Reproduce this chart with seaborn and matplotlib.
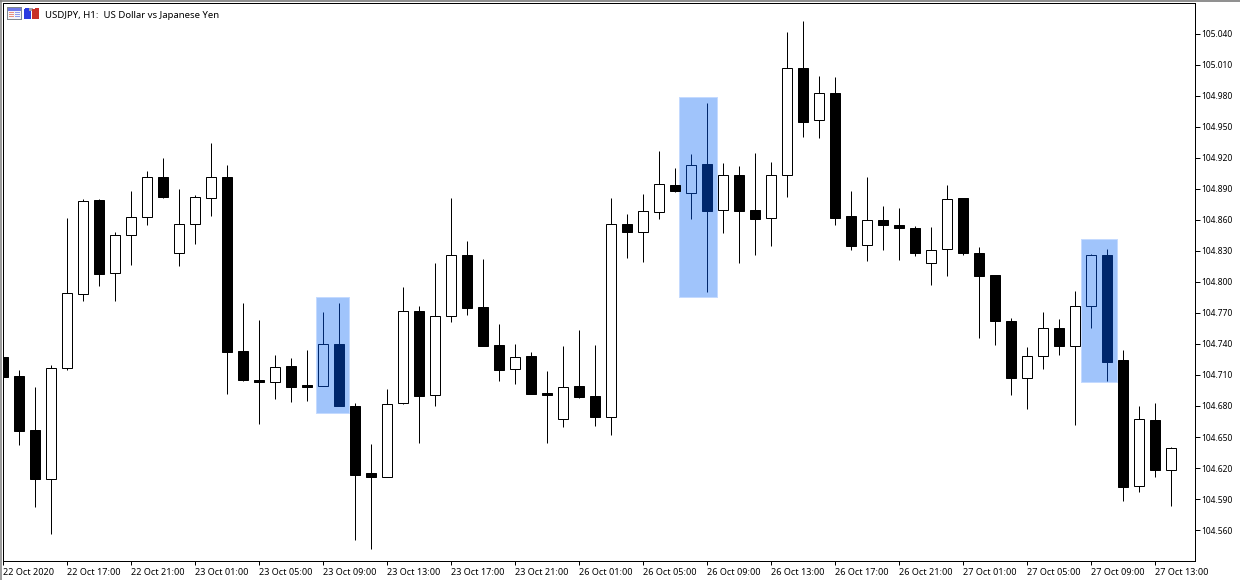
import matplotlib
matplotlib.use('Agg')
import matplotlib.pyplot as plt
import numpy as np
import pandas as pd
import seaborn as sns
from matplotlib.lines import Line2D
from matplotlib.patches import Rectangle
from matplotlib.transforms import IdentityTransform

opens = [104.727, 104.709, 104.657, 104.609, 104.717, 104.788, 104.879, 104.809, 104.845, 104.863,
         104.901, 104.828, 104.856, 104.881, 104.901, 104.733, 104.705, 104.703, 104.719, 104.700,
         104.699, 104.740, 104.680, 104.615, 104.611, 104.683, 104.772, 104.691, 104.767, 104.826,
         104.776, 104.739, 104.716, 104.728, 104.693, 104.667, 104.699, 104.690, 104.669, 104.856,
         104.848, 104.868, 104.894, 104.886, 104.914, 104.870, 104.903, 104.870, 104.862, 104.903,
         105.007, 104.957, 104.983, 104.864, 104.836, 104.860, 104.855, 104.852, 104.818, 104.832,
         104.881, 104.828, 104.807, 104.762, 104.707, 104.728, 104.755, 104.738, 104.777, 104.826,
         104.724, 104.603, 104.666, 104.618]
highs = [104.727, 104.715, 104.698, 104.720, 104.862, 104.880, 104.880, 104.848, 104.888, 104.907,
         104.920, 104.890, 104.884, 104.934, 104.913, 104.780, 104.763, 104.729, 104.726, 104.734,
         104.771, 104.780, 104.683, 104.643, 104.696, 104.795, 104.777, 104.818, 104.881, 104.840,
         104.822, 104.759, 104.740, 104.732, 104.714, 104.738, 104.753, 104.739, 104.881, 104.866,
         104.885, 104.927, 104.910, 104.924, 104.973, 104.915, 104.912, 104.925, 104.916, 105.042,
         105.052, 104.999, 104.998, 104.888, 104.901, 104.873, 104.871, 104.854, 104.853, 104.894,
         104.881, 104.834, 104.807, 104.765, 104.737, 104.771, 104.764, 104.791, 104.827, 104.832,
         104.734, 104.680, 104.683, 104.640]
lows = [104.708, 104.642, 104.582, 104.556, 104.715, 104.782, 104.796, 104.782, 104.816, 104.855,
        104.881, 104.815, 104.837, 104.864, 104.692, 104.704, 104.663, 104.687, 104.684, 104.685,
        104.699, 104.680, 104.550, 104.542, 104.611, 104.682, 104.644, 104.680, 104.761, 104.768,
        104.738, 104.704, 104.701, 104.692, 104.644, 104.660, 104.688, 104.661, 104.652, 104.823,
        104.819, 104.861, 104.887, 104.861, 104.790, 104.847, 104.818, 104.826, 104.835, 104.882,
        104.940, 104.939, 104.855, 104.831, 104.820, 104.831, 104.821, 104.825, 104.797, 104.806,
        104.826, 104.746, 104.739, 104.691, 104.677, 104.716, 104.729, 104.662, 104.755, 104.704,
        104.588, 104.597, 104.611, 104.583]
closes = [104.708, 104.656, 104.609, 104.717, 104.789, 104.878, 104.808, 104.845, 104.863, 104.901,
          104.882, 104.856, 104.882, 104.901, 104.732, 104.705, 104.703, 104.718, 104.698, 104.698,
          104.740, 104.680, 104.613, 104.611, 104.682, 104.772, 104.690, 104.767, 104.826, 104.775,
          104.738, 104.715, 104.727, 104.692, 104.691, 104.698, 104.689, 104.669, 104.856, 104.848,
          104.869, 104.895, 104.888, 104.913, 104.869, 104.903, 104.869, 104.861, 104.903, 105.007,
          104.955, 104.983, 104.862, 104.835, 104.860, 104.855, 104.852, 104.828, 104.831, 104.880,
          104.828, 104.806, 104.762, 104.707, 104.728, 104.755, 104.738, 104.777, 104.826, 104.723,
          104.602, 104.667, 104.618, 104.639]

highlighted = [20, 21, 43, 44, 68, 69]
zone_left = [19.56, 42.25, 67.38]
zone_right = [21.58, 44.62, 69.62]
zone_top = [104.7854, 104.9788, 104.8415]
zone_bottom = [104.6729, 104.7854, 104.7032]

x_tick_labels = ['22 Oct 2020', '22 Oct 17:00', '22 Oct 21:00', '23 Oct 01:00', '23 Oct 05:00',
                 '23 Oct 09:00', '23 Oct 13:00', '23 Oct 17:00', '23 Oct 21:00', '26 Oct 01:00',
                 '26 Oct 05:00', '26 Oct 09:00', '26 Oct 13:00', '26 Oct 17:00', '26 Oct 21:00',
                 '27 Oct 01:00', '27 Oct 05:00', '27 Oct 09:00', '27 Oct 13:00']
y_ticks = [104.560, 104.590, 104.620, 104.650, 104.680, 104.710, 104.740, 104.770, 104.800,
           104.830, 104.860, 104.890, 104.920, 104.950, 104.980, 105.010, 105.040]
title = 'USDJPY, H1:  US Dollar vs Japanese Yen'

ZONE_COLOR = '#a0c4fb'
ZONE_EDGE = '#c4daff'
NAVY = '#00276c'
FONT = 'Noto Sans'

sns.set_theme(style='white')
plt.rcParams['font.family'] = [FONT, 'DejaVu Sans']

df = pd.DataFrame({'candle': np.arange(len(opens)), 'open': opens, 'high': highs, 'low': lows, 'close': closes})
df['body_low'] = df[['open', 'close']].min(axis=1)
df['body_size'] = (df['open'] - df['close']).abs()
df['falling'] = df['close'] < df['open']
df['marked'] = df['candle'].isin(highlighted)

fig = plt.figure(figsize=(12.4, 5.8), dpi=100)
fig.patch.set_facecolor('white')
ax = fig.add_axes([3 / 1240, 1 - 561.3 / 580, 1192.3 / 1240, 558.3 / 580])

# body bars first, colours are set per candle after
sns.barplot(data=df, x='candle', y='body_size', bottom=df['body_low'].values, width=0.625,
            errorbar=None, color='black', linewidth=0.72, edgecolor='black', ax=ax, zorder=3)
for patch, (_, row) in zip(ax.patches, df.iterrows()):
    edge = NAVY if row['marked'] else 'black'
    if row['falling']:
        face = edge
    else:
        face = ZONE_COLOR if row['marked'] else 'white'
    patch.set_facecolor(face)
    patch.set_edgecolor(edge)

wick_colors = [NAVY if m else 'black' for m in df['marked']]
ax.vlines(df['candle'], df['low'], df['high'], colors=wick_colors, linewidth=0.72, zorder=2)

for left, right, top, bottom in zip(zone_left, zone_right, zone_top, zone_bottom):
    ax.add_patch(Rectangle((left, bottom), right - left, top - bottom, facecolor=ZONE_COLOR,
                           edgecolor=ZONE_EDGE, linewidth=0.72, zorder=1))

ax.set_xlim(-0.02, 74.5)
ax.set_ylim(104.5298, 105.0697)
ax.set_xlabel('')
ax.set_ylabel('')
ax.set_xticks(np.arange(len(x_tick_labels)) * 4)
ax.set_xticklabels(x_tick_labels, ha='left', fontsize=6.55, color='black')
ax.yaxis.tick_right()
ax.set_yticks(y_ticks)
ax.set_yticklabels([f'{v:.3f}' for v in y_ticks], fontsize=6.1, color='black')
ax.tick_params(axis='x', bottom=True, length=3.2, width=0.72, color='black', pad=1.5)
ax.tick_params(axis='y', right=True, length=3.6, width=0.72, color='black', pad=0.6)
for spine in ax.spines.values():
    spine.set_visible(True)
    spine.set_color('black')
    spine.set_linewidth(0.72)


def px_rect(x, y, w, h, color):
    fig.add_artist(Rectangle((x, 580 - y - h), w, h, facecolor=color, edgecolor='none',
                             transform=IdentityTransform()))


# window frame
fig.add_artist(Line2D([0, 1240], [579.5, 579.5], color='#707070', linewidth=1.1, transform=IdentityTransform()))
fig.add_artist(Line2D([1, 1], [0, 580], color='#808080', linewidth=1.1, transform=IdentityTransform()))

# toolbar icons in the chart corner
px_rect(7, 7, 15, 13, '#808890')
px_rect(8, 8, 13, 3, '#6f78e8')
px_rect(8, 11, 13, 8, '#f4f4f8')
for row_y in [12, 14, 16]:
    px_rect(9, row_y, 5, 1, '#e89080')
    px_rect(15, row_y, 5, 1, '#8f9cec')
px_rect(24, 9, 7, 10, '#2c3ce0')
px_rect(25, 8, 4, 4, '#2c3ce0')
px_rect(29, 8, 4, 3, '#a0a0a8')
px_rect(32, 9, 7, 10, '#c83028')
px_rect(35, 8, 4, 4, '#c83028')

fig.text(45 / 1240, 1 - 15 / 580, title, ha='left', va='center', fontsize=6.9, color='black')

fig.savefig('out.png', dpi=100)
